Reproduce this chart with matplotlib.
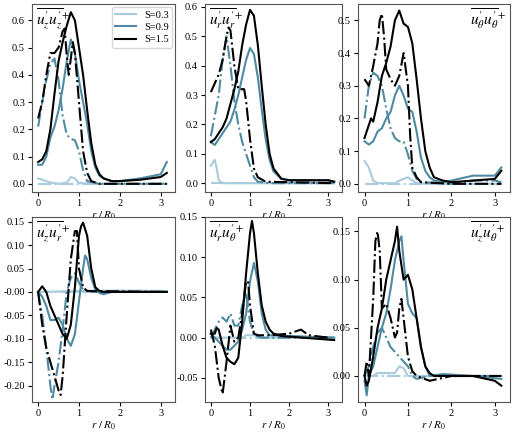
import numpy as np
import matplotlib
matplotlib.use("Agg")
import matplotlib.pyplot as plt

plt.rcParams["font.family"] = ["Liberation Serif", "DejaVu Serif"]
plt.rcParams["mathtext.fontset"] = "stix"

C03, C09, C15 = "#a9cbdc", "#4f8aa3", "black"

# ── data: (x, y) per curve, solid = "a", dash-dot = "b" ──
# panel 1: u'z u'z
uzuz_15a_x = [0, .1, .2, .3, .4, .5, .6, .7, .8, .9, 1.0, 1.1, 1.2, 1.3, 1.4, 1.5, 1.6, 1.8, 2.0, 2.5, 3.0, 3.15]
uzuz_15a_y = [.08, .09, .12, .2, .33, .45, .52, .58, .63, .6, .5, .4, .27, .15, .07, .035, .02, .01, .01, .015, .025, .04]
uzuz_15b_x = [0, .1, .2, .3, .4, .5, .6, .65, .7, .75, .8, .85, .9, 1.0, 1.1, 1.2, 1.3, 1.5, 2.0, 3.15]
uzuz_15b_y = [.24, .3, .4, .48, .48, .5, .56, .57, .47, .4, .46, .52, .48, .3, .12, .04, .01, 0, 0, 0]
uzuz_09a_x = uzuz_15a_x
uzuz_09a_y = [.07, .07, .1, .17, .21, .27, .35, .45, .53, .48, .38, .3, .22, .12, .06, .03, .02, .01, .01, .02, .035, .08]
uzuz_09b_x = [0, .1, .2, .3, .4, .5, .6, .7, .8, .9, 1.0, 1.1, 1.2, 1.5, 3.15]
uzuz_09b_y = [.21, .3, .38, .44, .46, .38, .25, .18, .165, .16, .12, .05, .01, 0, 0]
uzuz_03a_x = [0, .1, .2, .3, .5, .7, .8, .9, 1.0, 1.5, 3.15]
uzuz_03a_y = [.02, .015, .01, .005, 0, .005, .025, .02, .003, 0, 0]
uzuz_03b_x = [0, 3.15]
uzuz_03b_y = [0, 0]

# panel 2: u'r u'r
urur_15a_x = uzuz_15a_x
urur_15a_y = [.14, .15, .17, .19, .22, .27, .32, .38, .47, .54, .59, .57, .47, .33, .2, .1, .05, .015, .01, .01, .01, .005]
urur_15b_x = [0, .1, .2, .3, .4, .45, .5, .6, .7, .8, .85, .9, 1.0, 1.1, 1.2, 1.4, 3.15]
urur_15b_y = [.31, .34, .37, .42, .5, .53, .52, .4, .32, .32, .32, .28, .15, .05, .02, .005, 0]
urur_09a_x = uzuz_15a_x
urur_09a_y = [.14, .13, .15, .17, .19, .21, .25, .3, .36, .42, .46, .44, .36, .25, .15, .08, .04, .015, .01, .01, .01, .005]
urur_09b_x = [0, .1, .2, .3, .4, .5, .6, .7, .8, .9, 1.0, 1.1, 1.2, 1.5, 3.15]
urur_09b_y = [.16, .23, .3, .42, .5, .4, .28, .2, .14, .1, .06, .02, .005, 0, 0]
urur_03a_x = [0, .1, .15, .2, .3, 3.15]
urur_03a_y = [.06, .08, .05, .01, 0, 0]
urur_03b_x = [0, 3.15]
urur_03b_y = [0, 0]

# panel 3: u'θ u'θ
utut_15a_x = [0, .1, .15, .2, .3, .4, .5, .6, .7, .8, .9, 1.0, 1.1, 1.2, 1.3, 1.4, 1.5, 1.6, 1.8, 2.0, 2.5, 3.0, 3.15]
utut_15a_y = [.14, .18, .2, .19, .25, .33, .37, .42, .5, .53, .49, .48, .43, .32, .2, .1, .05, .02, .01, .005, .01, .015, .04]
utut_15b_x = [0, .05, .1, .2, .3, .35, .4, .45, .5, .6, .7, .8, .9, 1.0, 1.05, 1.1, 1.2, 1.3, 2.0, 3.15]
utut_15b_y = [.32, .31, .3, .36, .43, .5, .52, .45, .35, .32, .3, .33, .4, .3, .15, .05, .02, .005, 0, 0]
utut_09a_x = [0, .1, .2, .3, .4, .5, .6, .7, .8, .9, 1.0, 1.1, 1.2, 1.3, 1.4, 1.5, 1.6, 1.8, 2.0, 2.5, 3.0, 3.15]
utut_09a_y = [.13, .12, .13, .16, .17, .2, .22, .27, .3, .27, .23, .22, .16, .08, .04, .02, .01, .005, .01, .025, .025, .05]
utut_09b_x = [0, .1, .2, .3, .4, .5, .6, .7, .8, .9, 1.0, 1.1, 1.2, 1.3, 2.0, 2.5, 3.0, 3.15]
utut_09b_y = [.2, .3, .34, .33, .3, .23, .17, .14, .13, .13, .09, .04, .015, .005, 0, .01, .01, .005]
utut_03a_x = [0, .1, .15, .2, .3, .7, .8, .9, 1.0, 1.1, 1.2, 1.5, 3.15]
utut_03a_y = [.07, .05, .03, .01, .002, .002, .01, .015, .02, .01, .002, 0, 0]
utut_03b_x = [0, 3.15]
utut_03b_y = [0, 0]

# panel 4: u'z u'r
uzur_15a_x = [0, .1, .2, .3, .4, .5, .6, .7, .8, .9, 1.0, 1.05, 1.1, 1.2, 1.3, 1.4, 1.5, 1.6, 3.15]
uzur_15a_y = [0, .012, 0, -.03, -.05, -.07, -.09, -.1, -.07, .01, .12, .14, .148, .12, .05, .01, .002, 0, 0]
uzur_15b_x = [0, .1, .2, .3, .4, .5, .55, .6, .7, .8, .9, .95, 1.0, 1.1, 1.2, 3.15]
uzur_15b_y = [0, -.07, -.12, -.15, -.18, -.21, -.22, -.18, -.05, .07, .13, .13, .05, .01, .002, 0]
uzur_09a_x = [0, .1, .2, .3, .4, .5, .6, .7, .8, .9, 1.0, 1.1, 1.15, 1.2, 1.3, 1.4, 1.5, 1.6, 1.8, 3.15]
uzur_09a_y = [0, -.01, -.03, -.06, -.06, -.055, -.07, -.1, -.115, -.09, -.02, .05, .078, .07, .03, .005, -.002, -.005, 0, 0]
uzur_09b_x = [0, .1, .2, .3, .35, .4, .5, .6, .7, .8, .9, 1.0, 1.1, 1.3, 3.15]
uzur_09b_y = [0, -.05, -.12, -.2, -.23, -.2, -.15, -.08, 0, .03, .04, .02, .005, 0, 0]
uzur_03a_x = [0, 1.0, 2.0, 3.15]
uzur_03a_y = [0, .002, .003, .002]
uzur_03b_x = [0, 3.15]
uzur_03b_y = [0, 0]

# panel 5: u'r u'θ
urut_15a_x = [0, .1, .15, .2, .3, .4, .5, .6, .7, .8, .9, 1.0, 1.05, 1.1, 1.2, 1.3, 1.4, 1.5, 1.6, 1.8, 3.15]
urut_15a_y = [.005, .005, .012, .01, -.01, -.025, -.03, -.033, -.025, .02, .08, .13, .145, .13, .08, .04, .02, .01, .005, .002, -.003]
urut_15b_x = [0, .1, .2, .3, .4, .5, .6, .7, .8, .9, .95, 1.0, 1.1, 1.2, 1.5, 2.0, 2.3, 2.5, 3.0]
urut_15b_y = [.01, -.01, -.05, -.07, -.03, .015, -.005, 0, .03, .07, .07, .04, .005, .003, .003, .005, .01, .003, 0]
urut_09a_x = [0, .1, .2, .3, .4, .5, .6, .7, .8, .9, 1.0, 1.1, 1.2, 1.3, 1.4, 1.5, 3.15]
urut_09a_y = [.005, 0, -.005, -.01, -.015, -.015, -.01, -.005, .01, .03, .07, .093, .07, .03, .01, .003, 0]
urut_09b_x = [0, .1, .2, .3, .4, .5, .6, .7, .8, .9, 1.0, 1.1, 1.3, 3.15]
urut_09b_y = [0, .01, .02, .025, .02, .03, .015, .015, .04, .055, .02, .003, 0, 0]
urut_03a_x = [0, .8, .9, 1.2, 1.3, 3.15]
urut_03a_y = [0, 0, .003, .003, 0, 0]
urut_03b_x = [0, 3.15]
urut_03b_y = [0, 0]

# panel 6: u'z u'θ
uzut_15a_x = [0, .05, .1, .2, .3, .4, .5, .6, .7, .75, .8, .9, 1.0, 1.1, 1.2, 1.3, 1.4, 1.5, 1.6, 1.8, 2.5, 3.0, 3.15]
uzut_15a_y = [0, -.01, -.005, .02, .05, .07, .1, .12, .14, .155, .13, .1, .105, .09, .06, .03, .01, .003, 0, 0, 0, -.005, -.01]
uzut_15b_x = [0, .05, .1, .2, .25, .3, .35, .4, .5, .6, .7, .75, .8, .85, .9, 1.0, 1.1, 1.2, 1.5, 2.0, 3.15]
uzut_15b_y = [0, .015, 0, .08, .14, .15, .13, .07, .075, .06, .04, .045, .07, .08, .06, .02, .005, 0, -.005, 0, 0]
uzut_09a_x = [0, .05, .1, .2, .3, .4, .5, .6, .7, .8, .85, .9, 1.0, 1.1, 1.2, 1.3, 1.4, 1.5, 1.8, 2.5, 3.15]
uzut_09a_y = [-.005, -.02, 0, .01, .03, .05, .065, .09, .12, .14, .145, .12, .075, .065, .06, .03, .01, 0, .002, 0, -.003]
uzut_09b_x = [0, .1, .2, .3, .4, .5, .6, .7, .8, .9, 1.0, 1.1, 1.2, 1.5, 3.15]
uzut_09b_y = [0, .01, .03, .045, .05, .04, .03, .025, .02, .015, .01, 0, -.003, 0, 0]
uzut_03a_x = [0, .2, .3, .7, .8, .9, 1.0, 3.15]
uzut_03a_y = [0, 0, .003, .003, .01, .008, 0, 0]
uzut_03b_x = [0, 3.15]
uzut_03b_y = [0, 0]

labels = [r"$\overline{u_z^{\prime} u_z^{\prime}}^{+}$", r"$\overline{u_r^{\prime} u_r^{\prime}}^{+}$",
          r"$\overline{u_\theta^{\prime} u_\theta^{\prime}}^{+}$", r"$\overline{u_z^{\prime} u_r^{\prime}}^{+}$",
          r"$\overline{u_r^{\prime} u_\theta^{\prime}}^{+}$", r"$\overline{u_z^{\prime} u_\theta^{\prime}}^{+}$"]
panels = [
    (uzuz_03a_x, uzuz_03a_y, uzuz_03b_x, uzuz_03b_y, uzuz_09a_x, uzuz_09a_y, uzuz_09b_x, uzuz_09b_y, uzuz_15a_x, uzuz_15a_y, uzuz_15b_x, uzuz_15b_y),
    (urur_03a_x, urur_03a_y, urur_03b_x, urur_03b_y, urur_09a_x, urur_09a_y, urur_09b_x, urur_09b_y, urur_15a_x, urur_15a_y, urur_15b_x, urur_15b_y),
    (utut_03a_x, utut_03a_y, utut_03b_x, utut_03b_y, utut_09a_x, utut_09a_y, utut_09b_x, utut_09b_y, utut_15a_x, utut_15a_y, utut_15b_x, utut_15b_y),
    (uzur_03a_x, uzur_03a_y, uzur_03b_x, uzur_03b_y, uzur_09a_x, uzur_09a_y, uzur_09b_x, uzur_09b_y, uzur_15a_x, uzur_15a_y, uzur_15b_x, uzur_15b_y),
    (urut_03a_x, urut_03a_y, urut_03b_x, urut_03b_y, urut_09a_x, urut_09a_y, urut_09b_x, urut_09b_y, urut_15a_x, urut_15a_y, urut_15b_x, urut_15b_y),
    (uzut_03a_x, uzut_03a_y, uzut_03b_x, uzut_03b_y, uzut_09a_x, uzut_09a_y, uzut_09b_x, uzut_09b_y, uzut_15a_x, uzut_15a_y, uzut_15b_x, uzut_15b_y),
]
ylims = [(-0.03, 0.66), (-0.03, 0.61), (-0.025, 0.55), (-0.235, 0.16), (-0.08, 0.15), (-0.027, 0.165)]
yticks = [np.arange(0, 0.61, 0.1), np.arange(0, 0.61, 0.1), np.arange(0, 0.51, 0.1),
          np.arange(-0.2, 0.151, 0.05), np.arange(-0.05, 0.151, 0.05), np.arange(0, 0.151, 0.05)]
label_pos = [(0.03, 0.99, "left"), (0.03, 0.99, "left"), (0.97, 0.99, "right"),
             (0.03, 0.99, "left"), (0.03, 0.99, "left"), (0.97, 0.99, "right")]

# axes boxes in pixels (left, bottom, width, height)
W, H = 520, 432
boxes = [(32, 240, 143, 188), (205, 240, 137, 188), (358, 240, 152, 188),
         (32, 30, 143, 185), (205, 30, 137, 185), (358, 30, 152, 185)]

fig = plt.figure(figsize=(5.2, 4.32), dpi=100)
for i, p in enumerate(panels):
    l, b, w, h = boxes[i]
    ax = fig.add_axes([l / W, b / H, w / W, h / H])
    cols = [C03, C03, C09, C09, C15, C15]
    for j in range(6):
        ls = "-" if j % 2 == 0 else "-."
        lab = ["S=0.3", None, "S=0.9", None, "S=1.5", None][j]
        ax.plot(p[2 * j], p[2 * j + 1], ls, color=cols[j], lw=1.5, label=lab)
    ax.set_xlim(-0.15, 3.35)
    ax.set_ylim(*ylims[i])
    ax.set_xticks([0, 1, 2, 3])
    ax.set_yticks(yticks[i])
    ax.yaxis.set_major_formatter(matplotlib.ticker.FormatStrFormatter("%.1f" if i < 3 else "%.2f"))
    ax.tick_params(labelsize=7.5, length=3, pad=2)
    ax.set_xlabel(r"$r\ /\ R_0$", fontsize=8, labelpad=1)
    for s in ax.spines.values():
        s.set_color("#555555")
    x0, y0, ha = label_pos[i]
    ax.text(x0, y0, labels[i], transform=ax.transAxes, ha=ha, va="top", fontsize=11)
    if i == 0:
        ax.legend(loc="upper right", fontsize=7.5, frameon=True, handlelength=2.0,
                  borderpad=0.3, labelspacing=0.3, borderaxespad=0.3)

fig.savefig("out.png", dpi=100)
